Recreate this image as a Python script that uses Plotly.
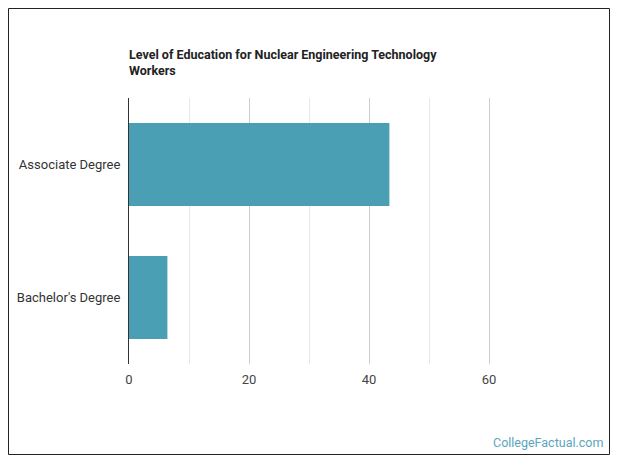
import plotly.graph_objects as go

categories = ["Associate Degree", "Bachelor's Degree"]
values = [43.4, 6.4]
x_ticks = [0, 20, 40, 60]

W, H = 620, 465
L, R, T, B = 129, 125, 98, 101
pw, ph = W - L - R, H - T - B

def px(x):
    return (x - L) / pw

def py(y):
    return 1 - (y - T) / ph

fig = go.Figure(go.Bar(
    y=categories, x=values, orientation="h",
    marker=dict(color="#4a9fb4", line=dict(width=0)),
    hoverinfo="skip",
))

fig.update_layout(
    width=W, height=H,
    margin=dict(l=L, r=R, t=T, b=B),
    paper_bgcolor="white", plot_bgcolor="white",
    font=dict(family="Roboto", size=12, color="#333"),
    bargap=0.375,
    showlegend=False,
    xaxis=dict(
        range=[0, 61], tickvals=x_ticks, showgrid=True, gridcolor="#cccccc",
        gridwidth=1, zeroline=False, showline=False, ticks="",
        tickfont=dict(size=13, color="#444"), ticklabelstandoff=6,
        minor=dict(tickvals=[10, 30, 50], showgrid=True, gridcolor="#e8e8e8", gridwidth=1),
        fixedrange=True,
    ),
    yaxis=dict(
        autorange="reversed", showgrid=False, zeroline=False,
        showline=True, linecolor="#333", linewidth=1, ticks="",
        tickfont=dict(size=13, color="#333"), ticklabelstandoff=5,
        fixedrange=True,
    ),
    shapes=[dict(
        type="rect", xref="paper", yref="paper",
        x0=px(8.5), x1=px(609.5), y0=py(8.5), y1=py(454.5),
        line=dict(color="#222", width=1), fillcolor="rgba(0,0,0,0)", layer="above",
    )],
    annotations=[
        dict(
            text="<b>Level of Education for Nuclear Engineering Technology<br>Workers</b>",
            xref="paper", yref="paper", x=px(127), y=py(45),
            xanchor="left", yanchor="top", align="left", showarrow=False,
            font=dict(family="Roboto", size=12.5, color="#222"),
        ),
        dict(
            text="CollegeFactual.com",
            xref="paper", yref="paper", x=px(605), y=py(442),
            xanchor="right", yanchor="middle", showarrow=False,
            font=dict(family="Roboto", size=12.5, color="#5aa6bd"),
        ),
    ],
)

fig.write_html("out.html")
